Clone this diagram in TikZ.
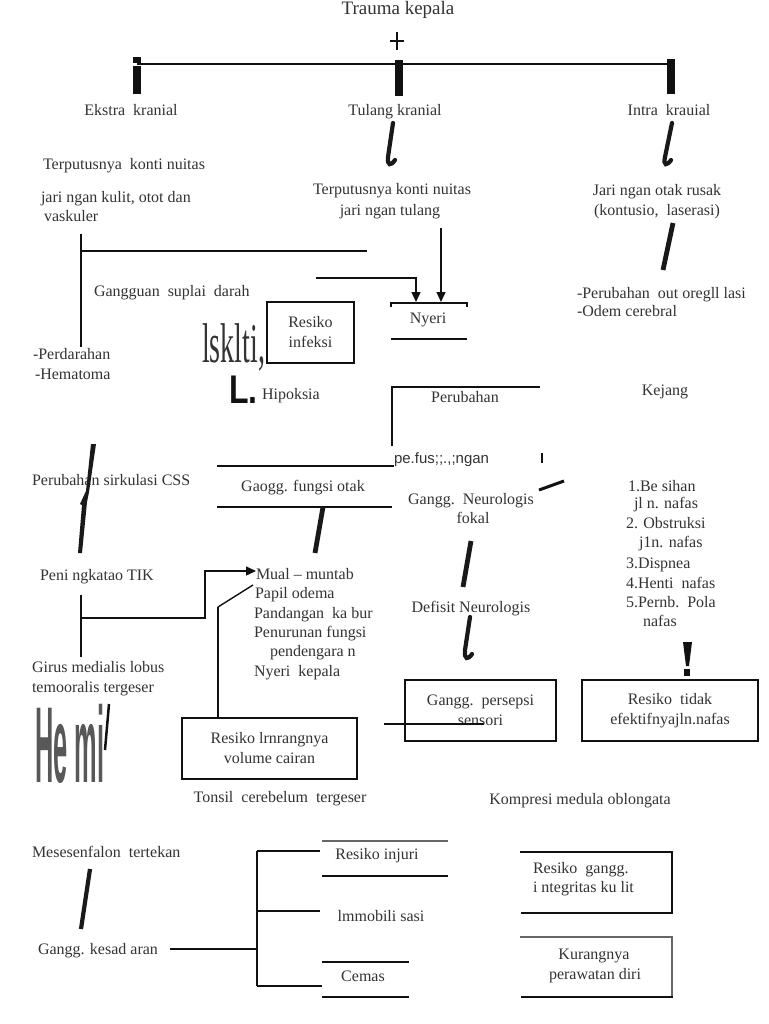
\documentclass[tikz,border=0pt]{standalone}
\usepackage{fontspec}
\setmainfont{Liberation Serif}
\newfontfamily\sansf{Liberation Sans}
\usetikzlibrary{arrows.meta}
\definecolor{txt}{HTML}{333333}
\definecolor{ln}{HTML}{111111}
\definecolor{big}{HTML}{585858}
\tikzset{
  lbl2/.style={inner sep=0pt, outer sep=0pt, font=\fontsize{16}{20}\selectfont, text=txt, align=center},
  lbl/.style={lbl2, text height=11.5pt, text depth=3.5pt},
  lw/.style={lbl, anchor=west, align=left},
  thinln/.style={line width=1.4pt, draw=ln},
  thickln/.style={line width=2.6pt, draw=ln},
  greyln/.style={line width=1.8pt, draw=black!60},
  slashln/.style={line width=4.8pt, draw=black!90},
  lstroke/.style={line width=4.2pt, draw=black!90, line cap=round},
  bx/.style={draw=ln, line width=1.8pt},
  tip/.style={-{Triangle[width=9pt,length=10pt]}},
}
\begin{document}
\begin{tikzpicture}[x=1pt,y=-1pt]
\useasboundingbox (0,0) rectangle (768,1024);
\fill[white] (0,0) rectangle (768,1024);

% ---- top
\node[lbl2, font=\fontsize{19}{22}\selectfont, text height=13pt, text depth=4pt] (title) at (398,10) {Trauma kepala};
\coordinate (plus) at (397,41);
\draw[line width=1.8pt, draw=ln] ([yshift=-9pt]plus) -- ([yshift=9pt]plus) ([xshift=-7pt]plus) -- ([xshift=7pt]plus);
\coordinate (barL) at (137,64);
\coordinate (barR) at (671,64);
\draw[thinln] (barL) -- (barR);
\fill[ln] (133,57) rectangle (141,63);
\fill[ln] (133,66) rectangle (141,94);
\fill[ln] (395,60) rectangle (403,96);
\fill[ln] (667,59) rectangle (675,94);

\node[lbl] (ekstra) at (131,112) {Ekstra\ \ kranial};
\node[lbl] (tulang) at (395,112) {Tulang kranial};
\node[lbl] (intra) at (669,112) {Intra\ \ krauial};

\draw[lstroke] (393,123) -- (388,157) .. controls (387,166) and (391,166) .. (395,160);
\draw[lstroke] (672,123) -- (665,157) .. controls (663,166) and (667,166) .. (671,160);

% ---- left upper
\node[lw] (t1) at (43,166) {Terputusnya\ \ konti nuitas};
\node[lw] (t2) at (41,199) {jari ngan kulit, otot dan};
\node[lw] (t3) at (44,218) {vaskuler};
\coordinate (v1a) at (81,234);
\coordinate (v1b) at (81,347);
\coordinate (h1a) at (81,251);
\coordinate (h1b) at (367,251);
\draw[thinln] (v1a) -- (v1b);
\draw[thinln] (h1a) -- (h1b);
\node[lw] (gsd) at (94,292) {Gangguan\ \ suplai\ \ darah};
\node[lw] (perd) at (33,355) {-Perdarahan};
\node[lw] (hemat) at (35,375) {-Hematoma};
\node[bx, lbl2, minimum width=87pt, minimum height=61pt] (rinf) at (310.5,332.5) {Resiko\\infeksi};

\node[anchor=south west, inner sep=0pt, text=txt] (isk) at (202,371) {\scalebox{0.5}[1]{\fontsize{56}{56}\selectfont lsklti,}};
\node[anchor=south west, inner sep=0pt, text=ln] (bigL) at (229,404) {\scalebox{0.8}[1]{\fontsize{40}{40}\sansf\bfseries L.}};
\node[lw] (hip) at (262,395) {Hipoksia};

% ---- middle upper
\node[lbl] (tk1) at (392,191) {Terputusnya konti nuitas};
\node[lbl] (tk2) at (390,211) {jari ngan tulang};
\node[lbl] (nyeri) at (428,319) {Nyeri};
\coordinate (a1) at (441,228);
\coordinate (a1e) at (441,302);
\coordinate (a2s) at (316,278);
\coordinate (a2m) at (392,278);
\coordinate (a2k) at (416,278);
\coordinate (a2e) at (416,302);
\draw[thinln, tip] (a1) -- (a1e);
\draw[thickln] (a2s) -- (a2m);
\draw[thinln, tip] (a2m) -- (a2k) -- (a2e);
\draw[thinln] (391,307) -- (391,303) -- (467,303) -- (467,307);
\draw[thickln] (391,339) -- (467,339);

% ---- right upper
\node[lbl] (jor1) at (657,192) {Jari ngan otak rusak};
\node[lbl] (jor2) at (657,211) {(kontusio,\ \ laserasi)};
\draw[slashln] (673,223) -- (663,270);
\node[lw] (pa) at (577,294) {-Perubahan\ \ out oregll lasi};
\node[lw] (oc) at (577,312) {-Odem cerebral};
\node[lbl] (kej) at (665,391) {Kejang};

% ---- perubahan / gangguan fungsi otak
\draw[thinln] (392,446) -- (392,387) -- (540,387);
\node[lbl] (perub) at (465,398) {Perubahan};
\node[lw, font=\fontsize{15}{18}\sansf] (pefus) at (394,459) {pe.fus;;.,;ngan};
\draw[thinln] (217,466) -- (394,466);
\draw[thinln] (542,453) -- (542,463);
\draw[line width=3pt, draw=ln] (539,490) -- (564,481);
\node[lbl] (gfo) at (303,487) {Gaogg. fungsi otak};
\draw[thickln] (217,507) -- (392,507);
\draw[slashln] (323,507) -- (315,553);

\node[lbl] (gn1) at (471,500) {Gangg.\ \ Neurologis};
\node[lbl] (gn2) at (473,519) {fokal};
\draw[slashln] (471,541) -- (463,587);
\node[lbl] (defn) at (471,608) {Defisit Neurologis};
\draw[lstroke] (470,617) -- (465,650) .. controls (464,660) and (468,660) .. (472,654);

% ---- list right
\node[lw] (l1) at (628,487) {1.Be sihan};
\node[lw] (l1b) at (634,504) {jl n. nafas};
\node[lw] (l2) at (626,524) {2. Obstruksi};
\node[lw] (l2b) at (639,543) {j1n. nafas};
\node[lw] (l3) at (626,564) {3.Dispnea};
\node[lw] (l4) at (626,584) {4.Henti\ \ nafas};
\node[lw] (l5) at (626,603) {5.Pernb.\ \ Pola};
\node[lw] (l5b) at (643,622) {nafas};
\fill[ln] (683,642) -- (692,642) -- (689,666) -- (686,666) -- cycle;
\fill[ln] (684,669) rectangle (690,676);

\node[bx, lbl2, minimum width=151pt, minimum height=61pt] (gps) at (480.5,710.5) {Gangg.\ \ persepsi\\sensori};
\draw[thinln] (384,724) -- (484,724);
\node[bx, lbl2, minimum width=176pt, minimum height=61pt] (rte) at (670,710.5) {Resiko\ \ tidak\\efektifnyajln.nafas};

% ---- left lower
\node[lw] (psc) at (32,481) {Perubahan sirkulasi CSS};
\fill[black!90] (91,444) -- (96,444) -- (89,492) -- (87,502) -- (82,553) -- (78,553) -- (82,505) -- (80,504) -- (86,491) -- cycle;
\node[lw] (tik) at (40,576) {Peni ngkatao TIK};
\coordinate (v2a) at (81,595);
\coordinate (v2b) at (81,657);
\draw[thinln] (v2a) -- (v2b);
\coordinate (b1) at (81,618);
\coordinate (b2) at (205,618);
\coordinate (b3) at (205,571);
\coordinate (b4) at (256,571);
\draw[thinln, tip] (b1) -- (b2) -- (b3) -- (b4);
\node[lw] (m1) at (256,575) {Mual – muntab};
\node[lw] (m2) at (255,594) {Papil odema};
\node[lw] (m3) at (254,614) {Pandangan\ \ ka bur};
\node[lw] (m4) at (254,633) {Penurunan fungsi};
\node[lw] (m5) at (270,652) {pendengara n};
\node[lw] (m6) at (254,672) {Nyeri\ \ kepala};
\draw[thinln] (218,607) -- (253,585);
\node[bx, lbl2, minimum width=175pt, minimum height=61pt] (rlv) at (269.5,748.5) {Resiko lrnrangnya\\volume cairan};
\draw[thickln] (218,607) -- (218,718);
\node[lw] (gir1) at (32,668) {Girus medialis lobus};
\node[lw] (gir2) at (32,688) {temooralis tergeser};
\node[anchor=south west, inner sep=0pt, text=big] (hemi) at (35,784) {\scalebox{0.235}[1]{\fontsize{108}{108}\sansf\bfseries He mi}};
\draw[line width=2.5pt, draw=ln] (109,704) -- (105,750);
\node[lbl] (tonsil) at (280,798) {Tonsil\ \ cerebelum\ \ tergeser};
\node[lbl] (kompresi) at (580,800) {Kompresi medula oblongata};

% ---- bottom
\node[lw] (mes) at (32,853) {Mesesenfalon\ \ tertekan};
\draw[line width=4.2pt, draw=black!90] (90,869) -- (81,929);
\node[lw] (gk) at (38,950) {Gangg. kesad aran};
\coordinate (k1) at (170,949);
\coordinate (k2) at (257,949);
\draw[thinln] (k1) -- (k2);
\draw[thinln] (257,851) -- (257,986);
\draw[thickln] (257,851) -- (320,851);
\draw[thickln] (257,911) -- (320,911);
\draw[thickln] (257,986) -- (322,986);
\draw[greyln] (322,841) -- (448,841);
\node[lbl] (ri) at (377,855) {Resiko injuri};
\draw[thickln] (322,876) -- (448,876);
\node[lbl] (imm) at (381,917) {lmmobili sasi};
\draw[thickln] (322,962) -- (409,962);
\node[lbl] (cem) at (363,977) {Cemas};
\draw[thickln] (322,997) -- (409,997);

\draw[thinln] (520,852) -- (672,852) -- (672,913);
\draw[thickln] (521,913) -- (673,913);
\node[lw] (rg1) at (533,869) {Resiko\ \ gangg.};
\node[lw] (rg2) at (533,888) {i ntegritas ku lit};
\draw[greyln] (520,937) -- (672,937) -- (672,997);
\draw[thickln] (521,997) -- (673,997);
\node[lbl] (kp1) at (594,955) {Kurangnya};
\node[lbl] (kp2) at (595,975) {perawatan diri};
\end{tikzpicture}
\end{document}
